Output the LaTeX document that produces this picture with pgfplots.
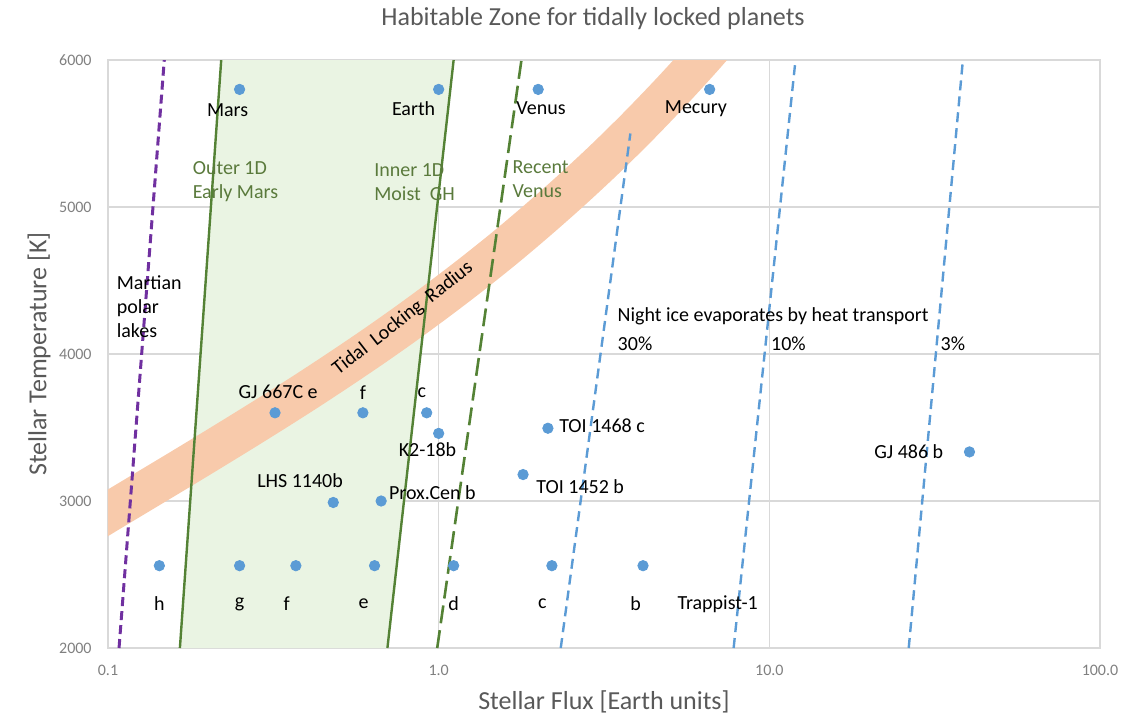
\documentclass[border=0pt]{standalone}
\usepackage{fontspec}
\setmainfont{Carlito}
\usepackage{pgfplots}
\pgfplotsset{compat=1.18}

\definecolor{ptblue}{HTML}{5B9BD5}
\definecolor{hzgreen}{HTML}{548235}
\definecolor{hzshade}{HTML}{EAF4E3}
\definecolor{tidal}{HTML}{F8CAAB}
\definecolor{lakes}{HTML}{7030A0}
\definecolor{gridgray}{HTML}{D9D9D9}
\definecolor{txtgray}{HTML}{595959}
\definecolor{tickgray}{HTML}{808080}
\definecolor{lblgreen}{HTML}{5A7A3C}
\definecolor{lbl}{HTML}{262626}

\begin{document}
\begin{tikzpicture}
\begin{axis}[
    at={(0,0)}, anchor=south west,
    scale only axis, width=496pt, height=294pt,
    xmode=log, xmin=0.1, xmax=100, ymin=2000, ymax=6000,
    xtick={0.1,1,10,100}, xticklabels={0.1,1.0,10.0,100.0},
    ytick={2000,3000,4000,5000,6000}, yticklabels={2000,3000,4000,5000,6000},
    minor xtick={},
    grid=major, major grid style={gridgray, line width=0.8pt},
    axis line style={gridgray, line width=0.8pt},
    tick style={draw=none},
    xticklabel style={anchor=center, yshift=-11pt, inner sep=0pt, font=\fontsize{8}{9}\selectfont, text=tickgray},
    yticklabel style={anchor=east, xshift=-8pt, inner sep=0pt, font=\fontsize{8}{9}\selectfont, text=tickgray},
    xlabel={Stellar Flux [Earth units]},
    ylabel={Stellar Temperature [K]},
    x label style={at={([yshift=-27pt]axis description cs:0.5,0)}, anchor=center, font=\fontsize{13}{15}\selectfont, text=txtgray},
    y label style={at={([xshift=-34.5pt]axis description cs:0,0.5)}, anchor=center, font=\fontsize{13}{15}\selectfont, text=txtgray},
    title={Habitable Zone for tidally locked planets},
    title style={at={([yshift=14.5pt]axis description cs:0.489,1)}, anchor=center, font=\fontsize{13}{15}\selectfont, text=txtgray},
    every node/.append style={font=\fontsize{11}{13}\selectfont, text=lbl},
]
% habitable zone (outer 1D to inner 1D)
\addplot[fill=hzshade, draw=none] coordinates {(0.165,2000) (0.22,6000) (1.11,6000) (0.70,2000)} -- cycle;

% tidal locking radius
\addplot[tidal, line width=20pt, smooth] coordinates {
    (0.0794,2784) (0.1,2920) (0.1259,3055) (0.1585,3190) (0.1995,3326)
    (0.2512,3464) (0.3162,3604) (0.3981,3747) (0.5012,3895) (0.6310,4047)
    (0.7943,4205) (1.0,4370) (1.2589,4542) (1.5849,4722) (1.9953,4912)
    (2.5119,5111) (3.1623,5320) (3.9811,5541) (5.0119,5775) (6.3096,6021)
    (7.9433,6281)};

% Martian polar lakes
\addplot[lakes, line width=1.5pt, dash pattern=on 4.5pt off 2.5pt] coordinates {(0.108,2000) (0.148,6000)};
% outer / inner 1D
\addplot[hzgreen, line width=1.2pt] coordinates {(0.165,2000) (0.22,6000)};
\addplot[hzgreen, line width=1.2pt] coordinates {(0.70,2000) (1.11,6000)};
% recent Venus
\addplot[hzgreen, line width=1.3pt, dash pattern=on 9pt off 3.5pt] coordinates {(0.99,2000) (1.78,6000)};
% night ice evaporation lines
\addplot[ptblue, line width=1.2pt, dash pattern=on 5pt off 3pt] coordinates {(2.34,2000) (3.8,5500)};
\addplot[ptblue, line width=1.2pt, dash pattern=on 5pt off 3pt] coordinates {(7.8,2000) (12.0,6000)};
\addplot[ptblue, line width=1.2pt, dash pattern=on 5pt off 3pt] coordinates {(26.4,2000) (38.5,6000)};

% planets
\addplot[only marks, mark=*, mark size=2.6pt, ptblue, mark options={draw=ptblue}] coordinates {
    (0.25,5800) (1.0,5800) (2.0,5800) (6.6,5800)
    (0.32,3600) (0.59,3600) (0.92,3600)
    (1.0,3460) (2.14,3495) (1.80,3180)
    (0.48,2990) (0.67,3000)
    (40.3,3334)
    (0.143,2560) (0.25,2560) (0.37,2560) (0.64,2560) (1.11,2560) (2.20,2560) (4.15,2560)};

% labels
\node at (0.23,5660) {Mars};
\node at (0.84,5670) {Earth};
\node at (2.04,5670) {Venus};
\node at (6.0,5670) {Mecury};
\node[anchor=west, inner sep=0pt, text=lblgreen, align=left] at (0.180,5172) {Outer 1D\\Early Mars};
\node[anchor=west, inner sep=0pt, text=lblgreen, align=left] at (0.637,5172) {Inner 1D\\Moist\ \ GH};
\node[anchor=west, inner sep=0pt, text=lblgreen, align=left] at (1.67,5190) {Recent\\Venus};
\node[anchor=west, inner sep=0pt, align=left] at (0.106,4325) {Martian\\polar\\lakes};
\node[rotate=38] at (0.78,4240) {Tidal\ \ Locking\ \ Radius};
\node at (0.327,3740) {GJ 667C e};
\node at (0.59,3740) {f};
\node at (0.89,3740) {c};
\node at (0.925,3350) {K2-18b};
\node at (0.381,3142) {LHS 1140b};
\node[anchor=west, inner sep=0pt] at (0.706,3060) {Prox.Cen b};
\node[anchor=west, inner sep=0pt] at (2.31,3511) {TOI 1468 c};
\node[anchor=west, inner sep=0pt] at (1.97,3100) {TOI 1452 b};
\node at (26.4,3334) {GJ 486 b};
\node at (0.143,2300) {h};
\node at (0.25,2300) {g};
\node at (0.347,2300) {f};
\node at (0.593,2300) {e};
\node at (1.11,2300) {d};
\node at (2.06,2300) {c};
\node at (3.94,2300) {b};
\node at (6.98,2300) {Trappist-1};
\node[anchor=west, inner sep=0pt] at (3.47,4255) {Night ice evaporates by heat transport};
\node[anchor=west, inner sep=0pt] at (3.47,4073) {30\%};
\node[anchor=west, inner sep=0pt] at (10.1,4073) {10\%};
\node[anchor=west, inner sep=0pt] at (32.9,4073) {3\%};
\end{axis}
\pgfresetboundingbox
\path[use as bounding box] (-54pt,-33pt) rectangle (516pt,324pt);
\end{tikzpicture}
\end{document}
